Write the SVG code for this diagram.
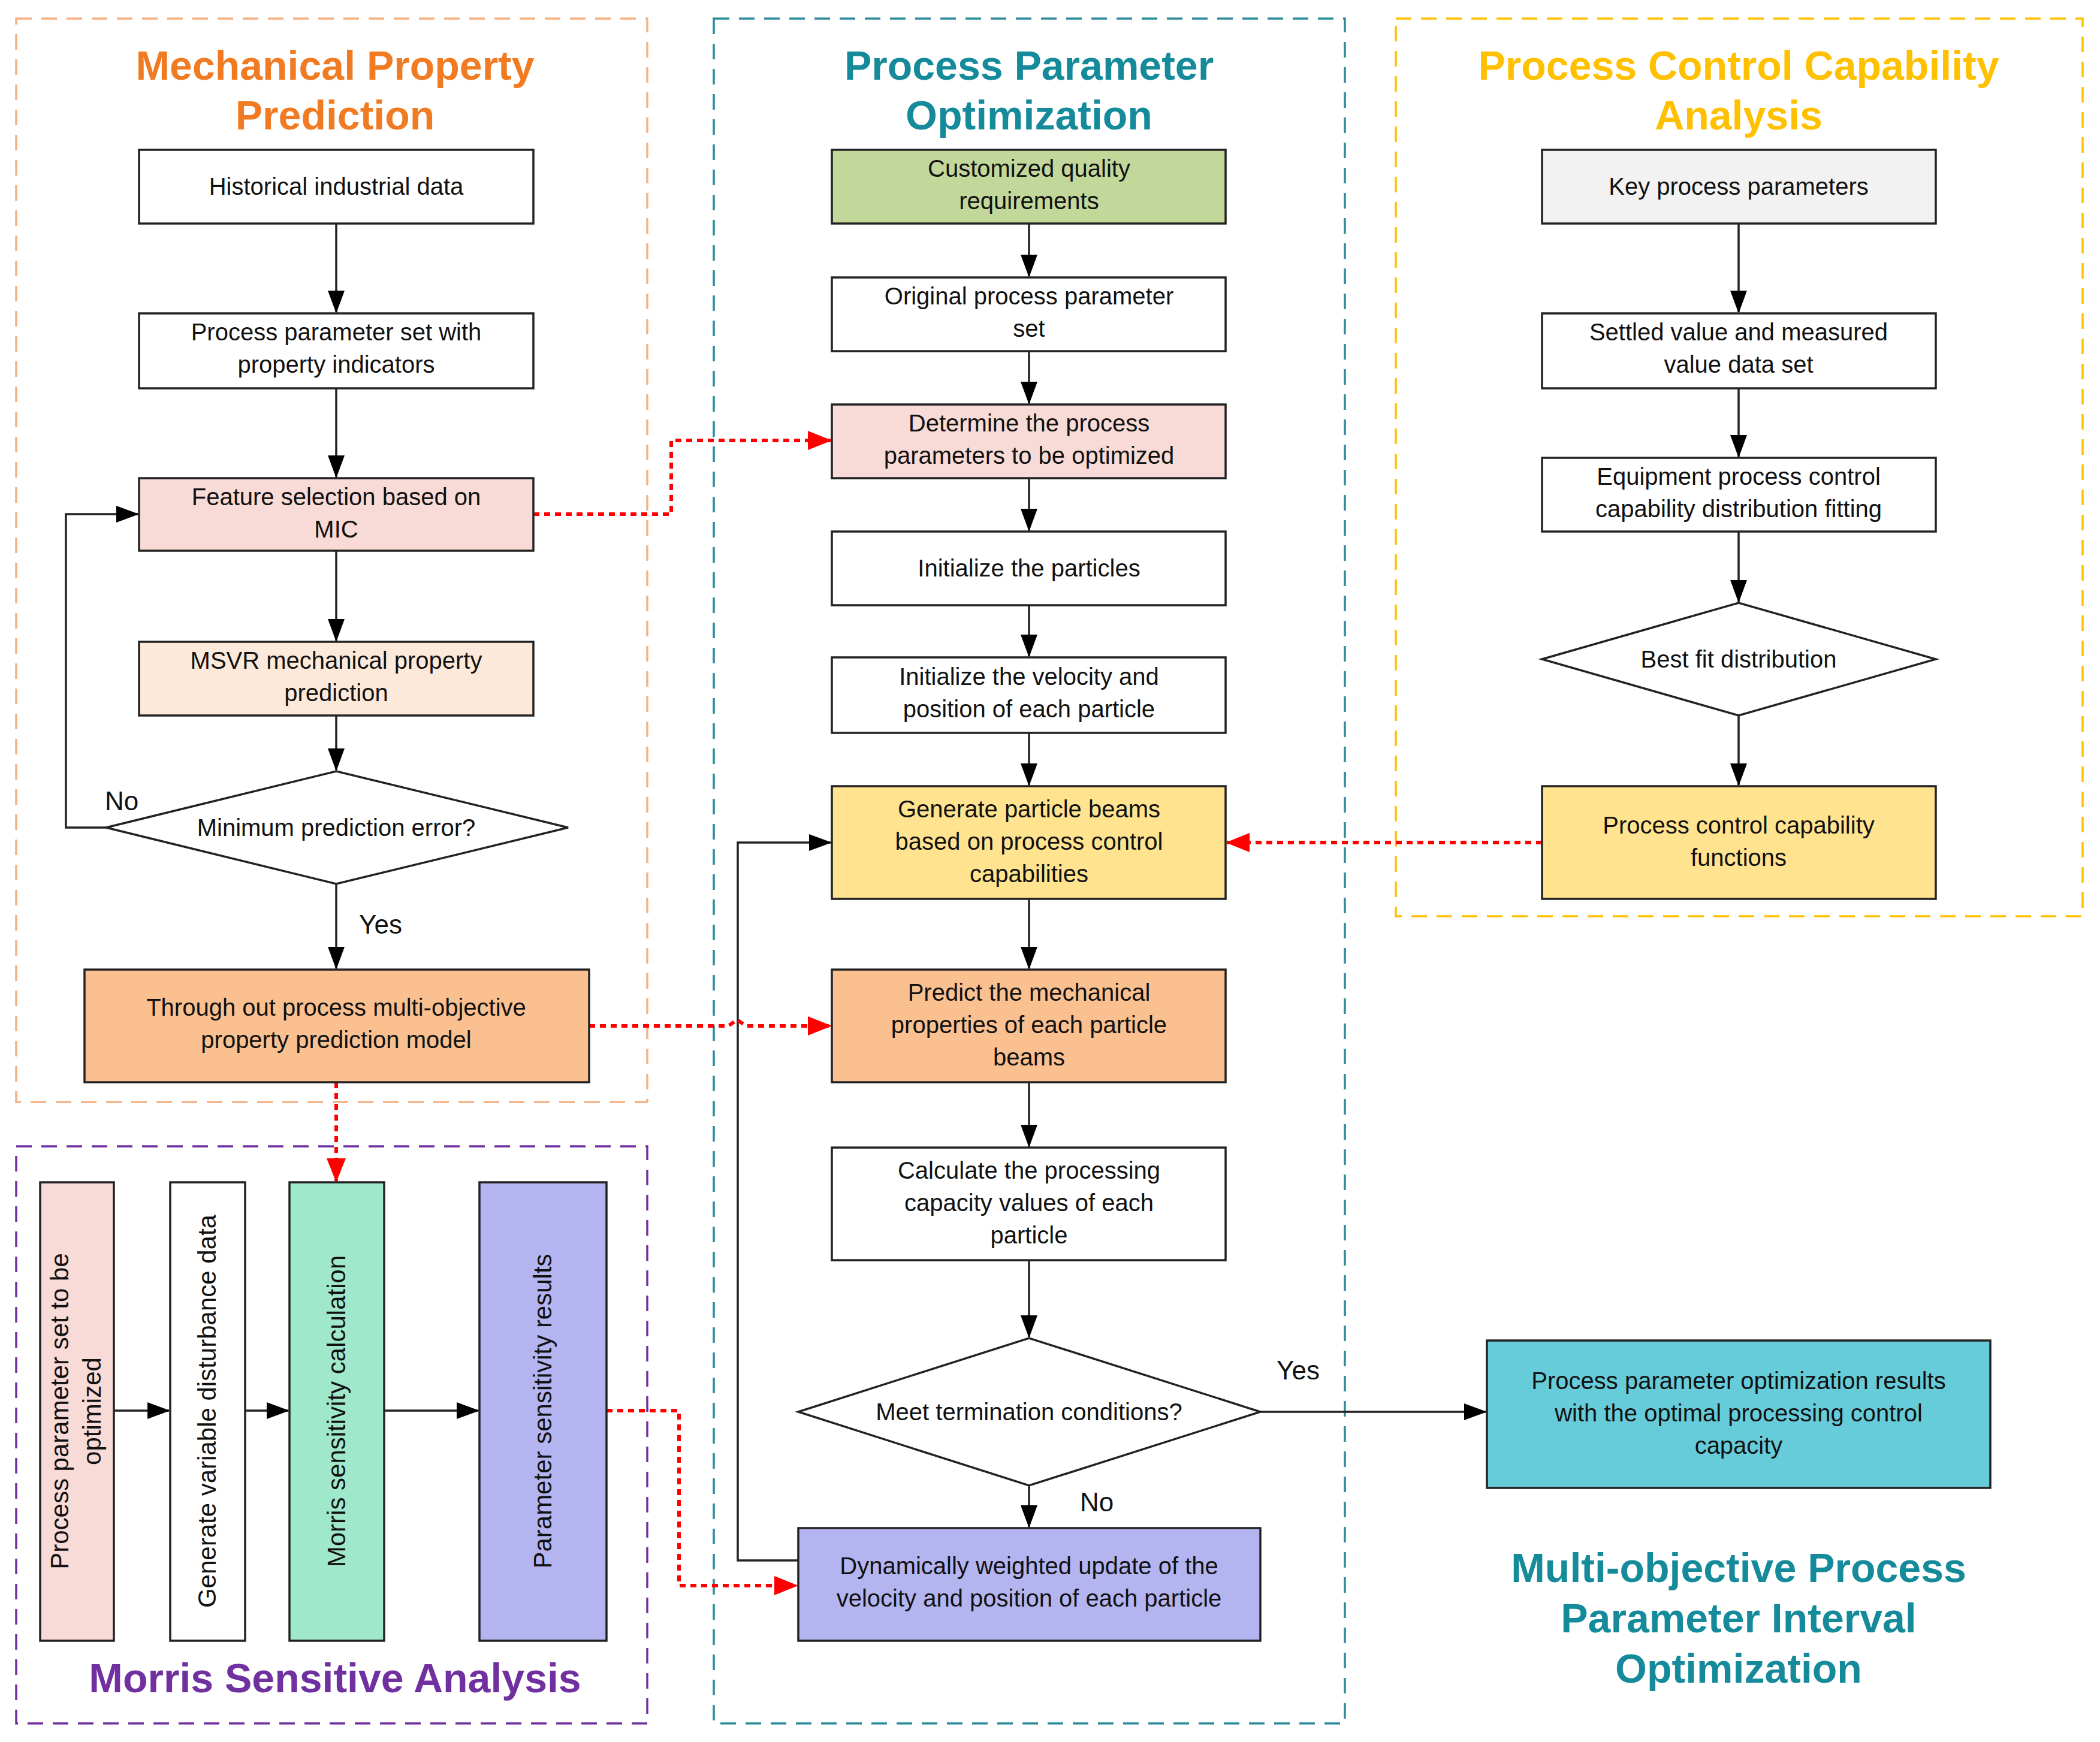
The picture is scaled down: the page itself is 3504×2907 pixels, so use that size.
<svg xmlns="http://www.w3.org/2000/svg" width="3504" height="2907" viewBox="0 0 3504 2907">
<style>
.t{font-family:"Liberation Sans",Arial,sans-serif;font-size:40px;fill:#111;text-anchor:middle}
.vt{font-family:"Liberation Sans",Arial,sans-serif;font-size:42px;fill:#111;text-anchor:middle}
.h{font-family:"Liberation Sans",Arial,sans-serif;font-size:68px;font-weight:bold;text-anchor:middle}
.b{stroke:#222;stroke-width:3.5}
.c{fill:none;stroke:#222;stroke-width:3.5}
.r{fill:none;stroke:#f00;stroke-width:6;stroke-dasharray:10 8}
.frame{fill:none;stroke-width:3.5;stroke-dasharray:26 16}
</style>
<defs>
<marker id="a" markerUnits="userSpaceOnUse" markerWidth="38" markerHeight="28" refX="36" refY="14" orient="auto"><path d="M0,0 L38,14 L0,28 z" fill="#000"/></marker>
<marker id="ar" markerUnits="userSpaceOnUse" markerWidth="40" markerHeight="32" refX="38" refY="16" orient="auto"><path d="M0,0 L40,16 L0,32 z" fill="#f00"/></marker>
</defs>
<rect width="3504" height="2907" fill="#fff"/>
<g id="frames">
<rect x="27" y="31" width="1053" height="1808" class="frame" stroke="#F4B183"/>
<rect x="27" y="1913" width="1053" height="963" class="frame" stroke="#7030A0"/>
<rect x="1191" y="31" width="1053" height="2845" class="frame" stroke="#2E8B9A"/>
<rect x="2329" y="31" width="1146" height="1498" class="frame" stroke="#FFC000"/>
</g>
<g id="titles">
<text class="h" fill="#F07B22" x="559" y="133">Mechanical Property</text>
<text class="h" fill="#F07B22" x="559" y="216">Prediction</text>
<text class="h" fill="#148A9B" x="1717" y="133">Process Parameter</text>
<text class="h" fill="#148A9B" x="1717" y="216">Optimization</text>
<text class="h" fill="#FFC000" x="2901" y="133">Process Control Capability</text>
<text class="h" fill="#FFC000" x="2901" y="216">Analysis</text>
<text class="h" fill="#7030A0" x="559" y="2824">Morris Sensitive Analysis</text>
<text class="h" fill="#148A9B" x="2901" y="2640">Multi-objective Process</text>
<text class="h" fill="#148A9B" x="2901" y="2724">Parameter Interval</text>
<text class="h" fill="#148A9B" x="2901" y="2808">Optimization</text>
</g>
<g id="connectors">
<line class="c" x1="561" y1="373" x2="561" y2="521" marker-end="url(#a)"/>
<line class="c" x1="561" y1="648" x2="561" y2="796" marker-end="url(#a)"/>
<line class="c" x1="561" y1="919" x2="561" y2="1069" marker-end="url(#a)"/>
<line class="c" x1="561" y1="1194" x2="561" y2="1285" marker-end="url(#a)"/>
<line class="c" x1="561" y1="1475" x2="561" y2="1616" marker-end="url(#a)"/>
<polyline class="c" points="177,1381 110,1381 110,858 230,858" marker-end="url(#a)"/>
<line class="c" x1="190" y1="2354" x2="282" y2="2354" marker-end="url(#a)"/>
<line class="c" x1="409" y1="2354" x2="481" y2="2354" marker-end="url(#a)"/>
<line class="c" x1="641" y1="2354" x2="798" y2="2354" marker-end="url(#a)"/>
<line class="c" x1="1717" y1="373" x2="1717" y2="461" marker-end="url(#a)"/>
<line class="c" x1="1717" y1="586" x2="1717" y2="673" marker-end="url(#a)"/>
<line class="c" x1="1717" y1="798" x2="1717" y2="885" marker-end="url(#a)"/>
<line class="c" x1="1717" y1="1010" x2="1717" y2="1095" marker-end="url(#a)"/>
<line class="c" x1="1717" y1="1223" x2="1717" y2="1310" marker-end="url(#a)"/>
<line class="c" x1="1717" y1="1500" x2="1717" y2="1616" marker-end="url(#a)"/>
<line class="c" x1="1717" y1="1806" x2="1717" y2="1913" marker-end="url(#a)"/>
<line class="c" x1="1717" y1="2103" x2="1717" y2="2231" marker-end="url(#a)"/>
<line class="c" x1="1717" y1="2479" x2="1717" y2="2548" marker-end="url(#a)"/>
<polyline class="c" points="1332,2604 1231,2604 1231,1406 1386,1406" marker-end="url(#a)"/>
<line class="c" x1="2103" y1="2356" x2="2479" y2="2356" marker-end="url(#a)"/>
<line class="c" x1="2901" y1="373" x2="2901" y2="521" marker-end="url(#a)"/>
<line class="c" x1="2901" y1="648" x2="2901" y2="762" marker-end="url(#a)"/>
<line class="c" x1="2901" y1="887" x2="2901" y2="1004" marker-end="url(#a)"/>
<line class="c" x1="2901" y1="1194" x2="2901" y2="1310" marker-end="url(#a)"/>
<polyline class="r" points="890,858 1120,858 1120,735 1386,735" marker-end="url(#ar)"/>
<line class="r" x1="2573" y1="1406" x2="2047" y2="1406" marker-end="url(#ar)"/>
<polyline class="r" points="983,1712 1215,1712 1230,1702 1245,1712 1386,1712" marker-end="url(#ar)"/>
<line class="r" x1="561" y1="1806" x2="561" y2="1971" marker-end="url(#ar)"/>
<polyline class="r" points="1012,2354 1133,2354 1133,2646 1330,2646" marker-end="url(#ar)"/>
</g>
<g id="labels">
<text class="t" x="203" y="1352" style="font-size:44px">No</text>
<text class="t" x="635" y="1558" style="font-size:44px">Yes</text>
<text class="t" x="2166" y="2302" style="font-size:44px">Yes</text>
<text class="t" x="1830" y="2522" style="font-size:44px">No</text>
</g>
<g id="n1"><rect class="b" x="232" y="250" width="658" height="123" fill="#fff"/><text class="t" x="561" y="325">Historical industrial data</text></g>
<g id="n2"><rect class="b" x="232" y="523" width="658" height="125" fill="#fff"/><text class="t" x="561" y="568">Process parameter set with</text><text class="t" x="561" y="622">property indicators</text></g>
<g id="n3"><rect class="b" x="232" y="798" width="658" height="121" fill="#F8DAD6"/><text class="t" x="561" y="843">Feature selection based on</text><text class="t" x="561" y="897">MIC</text></g>
<g id="n4"><rect class="b" x="232" y="1071" width="658" height="123" fill="#FDE9D9"/><text class="t" x="561" y="1116">MSVR mechanical property</text><text class="t" x="561" y="1170">prediction</text></g>
<g id="n5"><polygon class="b" points="177,1381 561,1287 948,1381 561,1475" fill="#fff"/><text class="t" x="561" y="1395">Minimum prediction error?</text></g>
<g id="n6"><rect class="b" x="141" y="1618" width="842" height="188" fill="#FAC090"/><text class="t" x="561" y="1695">Through out process multi-objective</text><text class="t" x="561" y="1749">property prediction model</text></g>
<g id="m1"><rect class="b" x="67" y="1973" width="123" height="765" fill="#F8DAD6"/><text class="vt" transform="translate(128,2355) rotate(-90)" y="-14">Process parameter set to be</text><text class="vt" transform="translate(128,2355) rotate(-90)" y="40">optimized</text></g>
<g id="m2"><rect class="b" x="284" y="1973" width="125" height="765" fill="#fff"/><text class="vt" transform="translate(346,2355) rotate(-90)" y="14">Generate variable disturbance data</text></g>
<g id="m3"><rect class="b" x="483" y="1973" width="158" height="765" fill="#A0E8CB"/><text class="vt" transform="translate(562,2355) rotate(-90)" y="14">Morris sensitivity calculation</text></g>
<g id="m4"><rect class="b" x="800" y="1973" width="212" height="765" fill="#B4B4F0"/><text class="vt" transform="translate(906,2355) rotate(-90)" y="14">Parameter sensitivity results</text></g>
<g id="p1"><rect class="b" x="1388" y="250" width="657" height="123" fill="#C2D89B"/><text class="t" x="1717" y="295">Customized quality</text><text class="t" x="1717" y="349">requirements</text></g>
<g id="p2"><rect class="b" x="1388" y="463" width="657" height="123" fill="#fff"/><text class="t" x="1717" y="508">Original process parameter</text><text class="t" x="1717" y="562">set</text></g>
<g id="p3"><rect class="b" x="1388" y="675" width="657" height="123" fill="#F8DAD6"/><text class="t" x="1717" y="720">Determine the process</text><text class="t" x="1717" y="774">parameters to be optimized</text></g>
<g id="p4"><rect class="b" x="1388" y="887" width="657" height="123" fill="#fff"/><text class="t" x="1717" y="962">Initialize the particles</text></g>
<g id="p5"><rect class="b" x="1388" y="1097" width="657" height="126" fill="#fff"/><text class="t" x="1717" y="1143">Initialize the velocity and</text><text class="t" x="1717" y="1197">position of each particle</text></g>
<g id="p6"><rect class="b" x="1388" y="1312" width="657" height="188" fill="#FFE38F"/><text class="t" x="1717" y="1364">Generate particle beams</text><text class="t" x="1717" y="1418">based on process control</text><text class="t" x="1717" y="1472">capabilities</text></g>
<g id="p7"><rect class="b" x="1388" y="1618" width="657" height="188" fill="#FAC090"/><text class="t" x="1717" y="1670">Predict the  mechanical</text><text class="t" x="1717" y="1724">properties of each particle</text><text class="t" x="1717" y="1778">beams</text></g>
<g id="p8"><rect class="b" x="1388" y="1915" width="657" height="188" fill="#fff"/><text class="t" x="1717" y="1967">Calculate the processing</text><text class="t" x="1717" y="2021">capacity values of each</text><text class="t" x="1717" y="2075">particle</text></g>
<g id="p9"><polygon class="b" points="1332,2356 1717,2233 2103,2356 1717,2479" fill="#fff"/><text class="t" x="1717" y="2370">Meet termination conditions?</text></g>
<g id="p10"><rect class="b" x="1332" y="2550" width="771" height="188" fill="#B4B4F0"/><text class="t" x="1717" y="2627">Dynamically weighted update of the</text><text class="t" x="1717" y="2681">velocity and position of each particle</text></g>
<g id="res"><rect class="b" x="2481" y="2237" width="840" height="246" fill="#66CCD9"/><text class="t" x="2901" y="2318">Process parameter optimization results</text><text class="t" x="2901" y="2372">with the optimal processing control</text><text class="t" x="2901" y="2426">capacity</text></g>
<g id="c1"><rect class="b" x="2573" y="250" width="657" height="123" fill="#F2F2F2"/><text class="t" x="2901" y="325">Key process parameters</text></g>
<g id="c2"><rect class="b" x="2573" y="523" width="657" height="125" fill="#fff"/><text class="t" x="2901" y="568">Settled value and measured</text><text class="t" x="2901" y="622">value data set</text></g>
<g id="c3"><rect class="b" x="2573" y="764" width="657" height="123" fill="#fff"/><text class="t" x="2901" y="809">Equipment process control</text><text class="t" x="2901" y="863">capability distribution fitting</text></g>
<g id="c4"><polygon class="b" points="2573,1100 2901,1006 3230,1100 2901,1194" fill="#fff"/><text class="t" x="2901" y="1114">Best fit distribution</text></g>
<g id="c5"><rect class="b" x="2573" y="1312" width="657" height="188" fill="#FFE38F"/><text class="t" x="2901" y="1391">Process control capability</text><text class="t" x="2901" y="1445">functions</text></g>
</svg>
